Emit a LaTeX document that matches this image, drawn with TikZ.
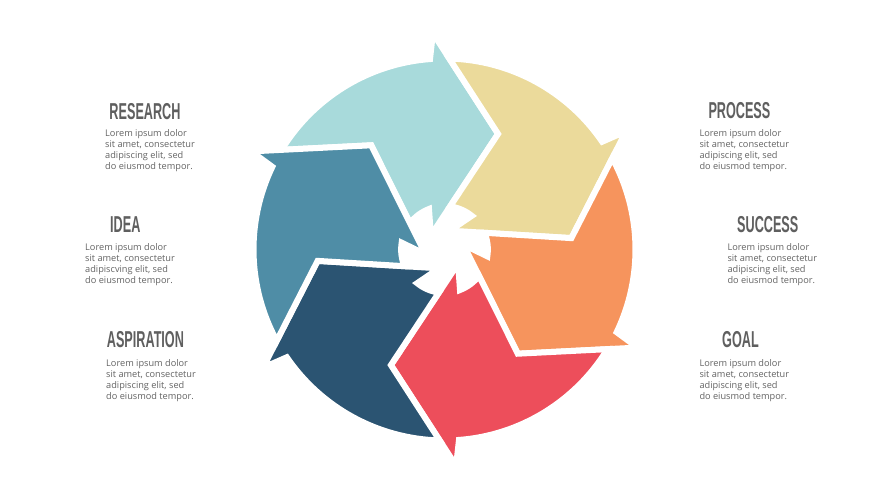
\documentclass[tikz,border=0pt]{standalone}
\usepackage{fontspec}
\setmainfont{Open Sans}
\newfontfamily\headfont[FakeStretch=0.55, UprightFont={* Bold}]{Liberation Sans}
\usetikzlibrary{positioning}
\definecolor{research}{RGB}{168, 218, 219}
\definecolor{process}{RGB}{235, 218, 155}
\definecolor{success}{RGB}{246, 148, 93}
\definecolor{goal}{RGB}{237, 78, 91}
\definecolor{aspiration}{RGB}{43, 84, 114}
\definecolor{idea}{RGB}{79, 141, 166}
\definecolor{headgray}{RGB}{95, 95, 95}
\definecolor{blurbgray}{RGB}{100, 100, 100}

% one arrow of the wheel (top left one), centre of the wheel at origin
\newcommand{\arrowseg}{(148.55:191pt) arc[start angle=148.55, end angle=94.35, radius=191pt]
    -- (-11.6,216.3) -- (53.6,115.6) -- (-13.6,14.1) -- (-15.5,40.5)
    arc[start angle=110.9, end angle=142.65, radius=43.3pt] -- (-73.3,104.2) -- cycle}

\begin{document}
\begin{tikzpicture}[
    x=1pt, y=1pt,
    segment/.style={fill=#1, draw=white, line width=6pt, line join=miter},
    heading/.style={font=\headfont\fontsize{23}{23}\selectfont, text=headgray, anchor=west, inner sep=0pt},
    blurb/.style={font=\fontsize{9.2}{10.9}\selectfont, text=blurbgray, align=left, anchor=north west, inner sep=0pt}
]

\path[use as bounding box, fill=white] (-444.5,-250.5) rectangle (444.5,249.5);

% Arrow wheel, clockwise from top left
\filldraw[segment=research] \arrowseg;
\filldraw[segment=process, rotate=-60] \arrowseg;
\filldraw[segment=success, rotate=-120] \arrowseg;
\filldraw[segment=goal, rotate=-180] \arrowseg;
\filldraw[segment=aspiration, rotate=-240] \arrowseg;
\filldraw[segment=idea, rotate=-300] \arrowseg;

% Left column
\node[heading] (research) at (-335.2, 138.2) {RESEARCH};
\node[blurb] (researchtext) at (-339.5, 120.2) {Lorem ipsum dolor\\sit amet, consectetur\\adipiscing elit, sed\\do eiusmod tempor.};

\node[heading] (idea) at (-334.5, 24.5) {IDEA};
\node[blurb] (ideatext) at (-359.5, 5.8) {Lorem ipsum dolor\\sit amet, consectetur\\adipiscving elit, sed\\do eiusmod tempor.};

\node[heading] (aspiration) at (-337.8, -90.5) {ASPIRATION};
\node[blurb] (aspirationtext) at (-338.5, -109.8) {Lorem ipsum dolor\\sit amet, consectetur\\adipiscing elit, sed\\do eiusmod tempor.};

% Right column
\node[heading] (process) at (263.8, 138.8) {PROCESS};
\node[blurb] (processtext) at (254.8, 120.2) {Lorem ipsum dolor\\sit amet, consectetur\\adipiscing elit, sed\\do eiusmod tempor.};

\node[heading] (success) at (292.5, 24.5) {SUCCESS};
\node[blurb] (successtext) at (282.8, 5.8) {Lorem ipsum dolor\\sit amet, consectetur\\adipiscing elit, sed\\do eiusmod tempor.};

\node[heading] (goal) at (277.5, -90.5) {GOAL};
\node[blurb] (goaltext) at (254.8, -109.8) {Lorem ipsum dolor\\sit amet, consectetur\\adipiscing elit, sed\\do eiusmod tempor.};

\end{tikzpicture}
\end{document}
